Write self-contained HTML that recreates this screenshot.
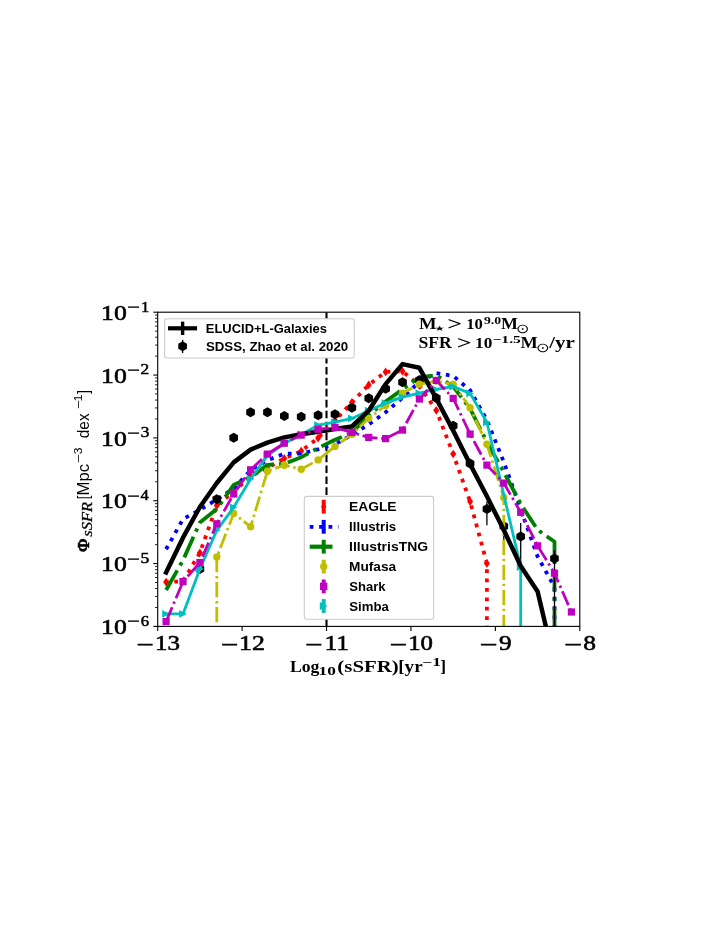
<!DOCTYPE html>
<html><head><meta charset="utf-8"><title>sSFR function</title>
<style>
html,body{margin:0;padding:0;background:#fff;}
svg{display:block;}
text{fill:#000;}
.sb{font-family:"Liberation Sans",sans-serif;font-weight:bold;}
.rb{font-family:"Liberation Serif",serif;font-weight:bold;}
</style></head><body>
<svg width="723" height="935" viewBox="0 0 723 935">
<rect width="723" height="935" fill="#fff"/>
<defs><clipPath id="ax"><rect x="157.7" y="312.2" width="422.1" height="314.2"/></clipPath></defs>
<g clip-path="url(#ax)">
<path d="M326.5,626.4 L326.5,312.2" stroke="#000" stroke-width="2.1" stroke-dasharray="7.66 3.29" fill="none"/>
<path d="M166.1,582.1 L183.0,581.3 L199.9,552.7 L216.8,505.4 L233.7,492.0 L250.6,476.0 L267.4,468.0 L284.3,458.4 L301.2,451.1 L318.1,438.1 L335.0,420.6 L351.9,402.4 L368.7,384.9 L385.6,371.9 L402.5,371.2 L419.4,385.6 L436.3,410.4 L453.2,454.0 L470.1,501.6 L486.9,563.4 L486.9,640.0" stroke="#f00" stroke-width="3.8" fill="none" stroke-dasharray="3.75 5.66" stroke-dashoffset="1.22" stroke-linejoin="round"/>
<path d="M166.1,577.8 L169.1,582.1 L166.1,586.4 L163.1,582.1Z" fill="#f00"/>
<path d="M183.0,577.0 L186.0,581.3 L183.0,585.6 L180.0,581.3Z" fill="#f00"/>
<path d="M199.9,548.4 L202.9,552.7 L199.9,557.0 L196.9,552.7Z" fill="#f00"/>
<path d="M216.8,501.1 L219.8,505.4 L216.8,509.7 L213.8,505.4Z" fill="#f00"/>
<path d="M233.7,487.7 L236.7,492.0 L233.7,496.3 L230.7,492.0Z" fill="#f00"/>
<path d="M250.6,471.7 L253.6,476.0 L250.6,480.3 L247.6,476.0Z" fill="#f00"/>
<path d="M267.4,463.7 L270.4,468.0 L267.4,472.3 L264.4,468.0Z" fill="#f00"/>
<path d="M284.3,454.1 L287.3,458.4 L284.3,462.7 L281.3,458.4Z" fill="#f00"/>
<path d="M301.2,446.8 L304.2,451.1 L301.2,455.4 L298.2,451.1Z" fill="#f00"/>
<path d="M318.1,433.8 L321.1,438.1 L318.1,442.4 L315.1,438.1Z" fill="#f00"/>
<path d="M335.0,416.3 L338.0,420.6 L335.0,424.9 L332.0,420.6Z" fill="#f00"/>
<path d="M351.9,398.1 L354.9,402.4 L351.9,406.7 L348.9,402.4Z" fill="#f00"/>
<path d="M368.7,380.6 L371.7,384.9 L368.7,389.2 L365.7,384.9Z" fill="#f00"/>
<path d="M385.6,367.6 L388.6,371.9 L385.6,376.2 L382.6,371.9Z" fill="#f00"/>
<path d="M402.5,366.9 L405.5,371.2 L402.5,375.5 L399.5,371.2Z" fill="#f00"/>
<path d="M419.4,381.3 L422.4,385.6 L419.4,389.9 L416.4,385.6Z" fill="#f00"/>
<path d="M436.3,406.1 L439.3,410.4 L436.3,414.7 L433.3,410.4Z" fill="#f00"/>
<path d="M453.2,449.7 L456.2,454.0 L453.2,458.3 L450.2,454.0Z" fill="#f00"/>
<path d="M470.1,497.3 L473.1,501.6 L470.1,505.9 L467.1,501.6Z" fill="#f00"/>
<path d="M486.9,559.1 L489.9,563.4 L486.9,567.7 L483.9,563.4Z" fill="#f00"/>
<path d="M166.1,549.3 L183.0,519.0 L199.9,509.8 L216.8,499.4 L233.7,488.5 L250.6,470.2 L267.4,460.2 L284.3,453.8 L301.2,453.6 L318.1,449.3 L335.0,444.2" stroke="#00f" stroke-width="3.8" fill="none" stroke-dasharray="3.75 5.66" stroke-linejoin="round"/>
<path d="M335.0,444.2 L351.9,435.0 L368.7,424.4 L385.6,412.3 L402.5,397.8 L419.4,381.8 L436.3,373.2 L453.2,375.9 L470.1,390.3 L486.9,420.0 L503.8,462.0 L520.7,509.2 L537.6,556.5 L554.5,587.0 L554.5,640.0" stroke="#00f" stroke-width="3.8" fill="none" stroke-dasharray="3.75 5.66" stroke-dashoffset="7.10" stroke-linejoin="round"/>
<path d="M166.1,590.0 L183.0,560.3 L199.9,522.4 L216.8,509.0 L233.7,484.9 L250.6,477.1 L267.4,464.8 L284.3,464.0 L301.2,457.2 L318.1,448.0 L335.0,439.7 L351.9,432.8 L368.7,415.3 L385.6,401.6 L402.5,389.4 L419.4,377.3 L436.3,375.2 L453.2,386.5 L470.1,408.6 L486.9,442.0 L503.8,472.0 L520.7,503.9 L537.6,529.8 L554.5,541.7 L554.5,640.0" stroke="#008000" stroke-width="3.8" fill="none" stroke-dasharray="22.56 5.64 3.52 5.64" stroke-linejoin="round"/>
<path d="M486.9,501.5 L486.9,525.2" stroke="#000" stroke-width="1.3" fill="none"/>
<path d="M503.8,521.5 L503.8,540.4" stroke="#000" stroke-width="1.3" fill="none"/>
<path d="M520.7,523 L520.7,565.6" stroke="#000" stroke-width="1.3" fill="none"/>
<path d="M554.5,550 L554.5,640" stroke="#000" stroke-width="1.3" fill="none"/>
<path d="M199.91,564.00 L195.58,566.50 L195.58,571.50 L199.91,574.00 L204.24,571.50 L204.24,566.50Z" fill="#000"/>
<path d="M216.79,494.20 L212.46,496.70 L212.46,501.70 L216.79,504.20 L221.12,501.70 L221.12,496.70Z" fill="#000"/>
<path d="M233.68,432.70 L229.35,435.20 L229.35,440.20 L233.68,442.70 L238.01,440.20 L238.01,435.20Z" fill="#000"/>
<path d="M250.56,407.30 L246.23,409.80 L246.23,414.80 L250.56,417.30 L254.89,414.80 L254.89,409.80Z" fill="#000"/>
<path d="M267.44,407.30 L263.11,409.80 L263.11,414.80 L267.44,417.30 L271.77,414.80 L271.77,409.80Z" fill="#000"/>
<path d="M284.33,411.10 L280.00,413.60 L280.00,418.60 L284.33,421.10 L288.66,418.60 L288.66,413.60Z" fill="#000"/>
<path d="M301.21,411.80 L296.88,414.30 L296.88,419.30 L301.21,421.80 L305.54,419.30 L305.54,414.30Z" fill="#000"/>
<path d="M318.10,410.30 L313.77,412.80 L313.77,417.80 L318.10,420.30 L322.43,417.80 L322.43,412.80Z" fill="#000"/>
<path d="M334.98,409.30 L330.65,411.80 L330.65,416.80 L334.98,419.30 L339.31,416.80 L339.31,411.80Z" fill="#000"/>
<path d="M351.86,402.70 L347.53,405.20 L347.53,410.20 L351.86,412.70 L356.19,410.20 L356.19,405.20Z" fill="#000"/>
<path d="M368.75,393.30 L364.42,395.80 L364.42,400.80 L368.75,403.30 L373.08,400.80 L373.08,395.80Z" fill="#000"/>
<path d="M385.63,383.70 L381.30,386.20 L381.30,391.20 L385.63,393.70 L389.96,391.20 L389.96,386.20Z" fill="#000"/>
<path d="M402.52,377.30 L398.19,379.80 L398.19,384.80 L402.52,387.30 L406.85,384.80 L406.85,379.80Z" fill="#000"/>
<path d="M419.40,375.30 L415.07,377.80 L415.07,382.80 L419.40,385.30 L423.73,382.80 L423.73,377.80Z" fill="#000"/>
<path d="M436.28,392.90 L431.95,395.40 L431.95,400.40 L436.28,402.90 L440.61,400.40 L440.61,395.40Z" fill="#000"/>
<path d="M453.17,420.80 L448.84,423.30 L448.84,428.30 L453.17,430.80 L457.50,428.30 L457.50,423.30Z" fill="#000"/>
<path d="M470.05,458.60 L465.72,461.10 L465.72,466.10 L470.05,468.60 L474.38,466.10 L474.38,461.10Z" fill="#000"/>
<path d="M486.94,503.90 L482.61,506.40 L482.61,511.40 L486.94,513.90 L491.27,511.40 L491.27,506.40Z" fill="#000"/>
<path d="M503.82,521.30 L499.49,523.80 L499.49,528.80 L503.82,531.30 L508.15,528.80 L508.15,523.80Z" fill="#000"/>
<path d="M520.70,531.40 L516.37,533.90 L516.37,538.90 L520.70,541.40 L525.03,538.90 L525.03,533.90Z" fill="#000"/>
<path d="M554.47,553.50 L550.14,556.00 L550.14,561.00 L554.47,563.50 L558.80,561.00 L558.80,556.00Z" fill="#000"/>
<path d="M216.8,622.4 L216.8,557.0 L233.7,513.4 L250.6,526.8 L267.4,471.2 L284.3,465.2 L301.2,469.3 L318.1,459.9 L335.0,446.5 L351.9,434.3 L368.7,418.4 L385.6,405.4 L402.5,393.1 L419.4,384.1 L436.3,381.0 L453.2,384.2 L470.1,407.8 L486.9,444.3 L503.8,497.5 L503.8,640.0" stroke="#bfbf00" stroke-width="2.8" fill="none" stroke-dasharray="15.2 3.7 2.4 3.7" stroke-dashoffset="24.90" stroke-linejoin="round"/>
<circle cx="216.8" cy="557.0" r="3.7" fill="#bfbf00"/>
<circle cx="233.7" cy="513.4" r="3.7" fill="#bfbf00"/>
<circle cx="250.6" cy="526.8" r="3.7" fill="#bfbf00"/>
<circle cx="267.4" cy="471.2" r="3.7" fill="#bfbf00"/>
<circle cx="284.3" cy="465.2" r="3.7" fill="#bfbf00"/>
<circle cx="301.2" cy="469.3" r="3.7" fill="#bfbf00"/>
<circle cx="318.1" cy="459.9" r="3.7" fill="#bfbf00"/>
<circle cx="335.0" cy="446.5" r="3.7" fill="#bfbf00"/>
<circle cx="351.9" cy="434.3" r="3.7" fill="#bfbf00"/>
<circle cx="368.7" cy="418.4" r="3.7" fill="#bfbf00"/>
<circle cx="385.6" cy="405.4" r="3.7" fill="#bfbf00"/>
<circle cx="402.5" cy="393.1" r="3.7" fill="#bfbf00"/>
<circle cx="419.4" cy="384.1" r="3.7" fill="#bfbf00"/>
<circle cx="436.3" cy="381.0" r="3.7" fill="#bfbf00"/>
<circle cx="453.2" cy="384.2" r="3.7" fill="#bfbf00"/>
<circle cx="470.1" cy="407.8" r="3.7" fill="#bfbf00"/>
<circle cx="486.9" cy="444.3" r="3.7" fill="#bfbf00"/>
<circle cx="503.8" cy="497.5" r="3.7" fill="#bfbf00"/>
<path d="M166.1,613.9 L183.0,613.9 L199.9,569.0 L216.8,530.3 L233.7,507.3 L250.6,479.0 L267.4,455.6 L284.3,443.5 L301.2,434.5 L318.1,425.2 L335.0,422.2 L351.9,418.4 L368.7,410.7 L385.6,403.1 L402.5,397.1 L419.4,393.2 L436.3,389.4 L453.2,386.5 L470.1,393.4 L486.9,422.3 L520.7,567.0 L520.7,640.0" stroke="#00bfbf" stroke-width="2.8" fill="none" stroke-linejoin="round"/>
<path d="M162.2,610.0 L170.0,613.9 L162.2,617.8Z" fill="#00bfbf"/>
<path d="M179.1,610.0 L186.9,613.9 L179.1,617.8Z" fill="#00bfbf"/>
<path d="M196.0,565.1 L203.8,569.0 L196.0,572.9Z" fill="#00bfbf"/>
<path d="M212.9,526.4 L220.7,530.3 L212.9,534.2Z" fill="#00bfbf"/>
<path d="M229.8,503.4 L237.6,507.3 L229.8,511.2Z" fill="#00bfbf"/>
<path d="M246.7,475.1 L254.5,479.0 L246.7,482.9Z" fill="#00bfbf"/>
<path d="M263.5,451.7 L271.3,455.6 L263.5,459.5Z" fill="#00bfbf"/>
<path d="M280.4,439.6 L288.2,443.5 L280.4,447.4Z" fill="#00bfbf"/>
<path d="M297.3,430.6 L305.1,434.5 L297.3,438.4Z" fill="#00bfbf"/>
<path d="M314.2,421.3 L322.0,425.2 L314.2,429.1Z" fill="#00bfbf"/>
<path d="M331.1,418.3 L338.9,422.2 L331.1,426.1Z" fill="#00bfbf"/>
<path d="M348.0,414.5 L355.8,418.4 L348.0,422.3Z" fill="#00bfbf"/>
<path d="M364.8,406.8 L372.6,410.7 L364.8,414.6Z" fill="#00bfbf"/>
<path d="M381.7,399.2 L389.5,403.1 L381.7,407.0Z" fill="#00bfbf"/>
<path d="M398.6,393.2 L406.4,397.1 L398.6,401.0Z" fill="#00bfbf"/>
<path d="M415.5,389.3 L423.3,393.2 L415.5,397.1Z" fill="#00bfbf"/>
<path d="M432.4,385.5 L440.2,389.4 L432.4,393.3Z" fill="#00bfbf"/>
<path d="M449.3,382.6 L457.1,386.5 L449.3,390.4Z" fill="#00bfbf"/>
<path d="M466.2,389.5 L474.0,393.4 L466.2,397.3Z" fill="#00bfbf"/>
<path d="M483.0,418.4 L490.8,422.3 L483.0,426.2Z" fill="#00bfbf"/>
<path d="M516.8,563.1 L524.6,567.0 L516.8,570.9Z" fill="#00bfbf"/>
<path d="M166.1,572.5 L183.0,537.7 L199.9,507.0 L216.8,483.0 L233.7,462.4 L250.6,449.6 L267.4,442.6 L284.3,437.4 L301.2,434.3 L318.1,431.8 L335.0,429.0 L351.9,426.5 L368.7,410.7 L385.6,384.1 L402.5,364.1 L419.4,367.8 L436.3,398.6 L453.2,430.6 L470.1,464.3 L486.9,496.3 L503.8,530.0 L520.7,566.0 L537.6,591.5 L554.5,663.0" stroke="#000" stroke-width="4.5" fill="none" stroke-linejoin="round" stroke-linecap="square"/>
<path d="M166.1,621.6 L183.0,581.6 L199.9,562.6 L216.8,523.8 L233.7,494.0 L250.6,469.8 L267.4,454.1 L284.3,443.2 L301.2,435.1 L318.1,429.3 L335.0,427.5 L351.9,432.4 L368.7,437.4 L385.6,438.6 L402.5,430.1 L419.4,399.0 L436.3,380.4 L453.2,398.4 L470.1,434.1 L486.9,465.1 L503.8,483.1 L520.7,512.3 L537.6,545.8 L554.5,573.2 L571.4,612.0" stroke="#bf00bf" stroke-width="2.8" fill="none" stroke-dasharray="15.2 3.7 2.4 3.7" stroke-dashoffset="24.60" stroke-linejoin="round"/>
<rect x="162.5" y="618.0" width="7.2" height="7.2" fill="#bf00bf"/>
<rect x="179.4" y="578.0" width="7.2" height="7.2" fill="#bf00bf"/>
<rect x="196.3" y="559.0" width="7.2" height="7.2" fill="#bf00bf"/>
<rect x="213.2" y="520.2" width="7.2" height="7.2" fill="#bf00bf"/>
<rect x="230.1" y="490.4" width="7.2" height="7.2" fill="#bf00bf"/>
<rect x="247.0" y="466.2" width="7.2" height="7.2" fill="#bf00bf"/>
<rect x="263.8" y="450.5" width="7.2" height="7.2" fill="#bf00bf"/>
<rect x="280.7" y="439.6" width="7.2" height="7.2" fill="#bf00bf"/>
<rect x="297.6" y="431.5" width="7.2" height="7.2" fill="#bf00bf"/>
<rect x="314.5" y="425.7" width="7.2" height="7.2" fill="#bf00bf"/>
<rect x="331.4" y="423.9" width="7.2" height="7.2" fill="#bf00bf"/>
<rect x="348.3" y="428.8" width="7.2" height="7.2" fill="#bf00bf"/>
<rect x="365.1" y="433.8" width="7.2" height="7.2" fill="#bf00bf"/>
<rect x="382.0" y="435.0" width="7.2" height="7.2" fill="#bf00bf"/>
<rect x="398.9" y="426.5" width="7.2" height="7.2" fill="#bf00bf"/>
<rect x="415.8" y="395.4" width="7.2" height="7.2" fill="#bf00bf"/>
<rect x="432.7" y="376.8" width="7.2" height="7.2" fill="#bf00bf"/>
<rect x="449.6" y="394.8" width="7.2" height="7.2" fill="#bf00bf"/>
<rect x="466.5" y="430.5" width="7.2" height="7.2" fill="#bf00bf"/>
<rect x="483.3" y="461.5" width="7.2" height="7.2" fill="#bf00bf"/>
<rect x="500.2" y="479.5" width="7.2" height="7.2" fill="#bf00bf"/>
<rect x="517.1" y="508.7" width="7.2" height="7.2" fill="#bf00bf"/>
<rect x="534.0" y="542.2" width="7.2" height="7.2" fill="#bf00bf"/>
<rect x="550.9" y="569.6" width="7.2" height="7.2" fill="#bf00bf"/>
<rect x="567.8" y="608.4" width="7.2" height="7.2" fill="#bf00bf"/>
</g>
<rect x="157.7" y="312.2" width="422.1" height="314.2" fill="none" stroke="#000" stroke-width="1.1"/>
<path d="M157.7,312.20 h-4.4" stroke="#000" stroke-width="1.1"/>
<path d="M157.7,356.12 h-2.6" stroke="#000" stroke-width="0.9"/>
<path d="M157.7,345.06 h-2.6" stroke="#000" stroke-width="0.9"/>
<path d="M157.7,337.21 h-2.6" stroke="#000" stroke-width="0.9"/>
<path d="M157.7,331.12 h-2.6" stroke="#000" stroke-width="0.9"/>
<path d="M157.7,326.14 h-2.6" stroke="#000" stroke-width="0.9"/>
<path d="M157.7,321.93 h-2.6" stroke="#000" stroke-width="0.9"/>
<path d="M157.7,318.29 h-2.6" stroke="#000" stroke-width="0.9"/>
<path d="M157.7,315.08 h-2.6" stroke="#000" stroke-width="0.9"/>
<path d="M157.7,375.04 h-4.4" stroke="#000" stroke-width="1.1"/>
<path d="M157.7,418.96 h-2.6" stroke="#000" stroke-width="0.9"/>
<path d="M157.7,407.90 h-2.6" stroke="#000" stroke-width="0.9"/>
<path d="M157.7,400.05 h-2.6" stroke="#000" stroke-width="0.9"/>
<path d="M157.7,393.96 h-2.6" stroke="#000" stroke-width="0.9"/>
<path d="M157.7,388.98 h-2.6" stroke="#000" stroke-width="0.9"/>
<path d="M157.7,384.77 h-2.6" stroke="#000" stroke-width="0.9"/>
<path d="M157.7,381.13 h-2.6" stroke="#000" stroke-width="0.9"/>
<path d="M157.7,377.92 h-2.6" stroke="#000" stroke-width="0.9"/>
<path d="M157.7,437.88 h-4.4" stroke="#000" stroke-width="1.1"/>
<path d="M157.7,481.80 h-2.6" stroke="#000" stroke-width="0.9"/>
<path d="M157.7,470.74 h-2.6" stroke="#000" stroke-width="0.9"/>
<path d="M157.7,462.89 h-2.6" stroke="#000" stroke-width="0.9"/>
<path d="M157.7,456.80 h-2.6" stroke="#000" stroke-width="0.9"/>
<path d="M157.7,451.82 h-2.6" stroke="#000" stroke-width="0.9"/>
<path d="M157.7,447.61 h-2.6" stroke="#000" stroke-width="0.9"/>
<path d="M157.7,443.97 h-2.6" stroke="#000" stroke-width="0.9"/>
<path d="M157.7,440.76 h-2.6" stroke="#000" stroke-width="0.9"/>
<path d="M157.7,500.72 h-4.4" stroke="#000" stroke-width="1.1"/>
<path d="M157.7,544.64 h-2.6" stroke="#000" stroke-width="0.9"/>
<path d="M157.7,533.58 h-2.6" stroke="#000" stroke-width="0.9"/>
<path d="M157.7,525.73 h-2.6" stroke="#000" stroke-width="0.9"/>
<path d="M157.7,519.64 h-2.6" stroke="#000" stroke-width="0.9"/>
<path d="M157.7,514.66 h-2.6" stroke="#000" stroke-width="0.9"/>
<path d="M157.7,510.45 h-2.6" stroke="#000" stroke-width="0.9"/>
<path d="M157.7,506.81 h-2.6" stroke="#000" stroke-width="0.9"/>
<path d="M157.7,503.60 h-2.6" stroke="#000" stroke-width="0.9"/>
<path d="M157.7,563.56 h-4.4" stroke="#000" stroke-width="1.1"/>
<path d="M157.7,607.48 h-2.6" stroke="#000" stroke-width="0.9"/>
<path d="M157.7,596.42 h-2.6" stroke="#000" stroke-width="0.9"/>
<path d="M157.7,588.57 h-2.6" stroke="#000" stroke-width="0.9"/>
<path d="M157.7,582.48 h-2.6" stroke="#000" stroke-width="0.9"/>
<path d="M157.7,577.50 h-2.6" stroke="#000" stroke-width="0.9"/>
<path d="M157.7,573.29 h-2.6" stroke="#000" stroke-width="0.9"/>
<path d="M157.7,569.65 h-2.6" stroke="#000" stroke-width="0.9"/>
<path d="M157.7,566.44 h-2.6" stroke="#000" stroke-width="0.9"/>
<path d="M157.7,626.40 h-4.4" stroke="#000" stroke-width="1.1"/>
<path d="M157.70,626.4 v4.6" stroke="#000" stroke-width="1.1"/>
<path d="M242.12,626.4 v4.6" stroke="#000" stroke-width="1.1"/>
<path d="M326.54,626.4 v4.6" stroke="#000" stroke-width="1.1"/>
<path d="M410.96,626.4 v4.6" stroke="#000" stroke-width="1.1"/>
<path d="M495.38,626.4 v4.6" stroke="#000" stroke-width="1.1"/>
<path d="M579.80,626.4 v4.6" stroke="#000" stroke-width="1.1"/>
<text x="101.14" y="319.9" font-family="Liberation Serif, serif" font-size="22.0" textLength="25.69" lengthAdjust="spacingAndGlyphs" stroke="#000" stroke-width="0.6">10</text>
<text x="127.14" y="312.1" font-family="Liberation Serif, serif" font-size="15.0" textLength="12.55" lengthAdjust="spacingAndGlyphs" stroke="#000" stroke-width="0.5">−</text>
<text x="140.92" y="311.6" font-family="Liberation Serif, serif" font-size="15.0" textLength="8.28" lengthAdjust="spacingAndGlyphs" stroke="#000" stroke-width="0.5">1</text>
<text x="101.14" y="382.7" font-family="Liberation Serif, serif" font-size="22.0" textLength="25.69" lengthAdjust="spacingAndGlyphs" stroke="#000" stroke-width="0.6">10</text>
<text x="127.14" y="374.9" font-family="Liberation Serif, serif" font-size="15.0" textLength="12.55" lengthAdjust="spacingAndGlyphs" stroke="#000" stroke-width="0.5">−</text>
<text x="140.63" y="374.4" font-family="Liberation Serif, serif" font-size="15.0" textLength="8.67" lengthAdjust="spacingAndGlyphs" stroke="#000" stroke-width="0.5">2</text>
<text x="101.14" y="445.6" font-family="Liberation Serif, serif" font-size="22.0" textLength="25.69" lengthAdjust="spacingAndGlyphs" stroke="#000" stroke-width="0.6">10</text>
<text x="127.14" y="437.8" font-family="Liberation Serif, serif" font-size="15.0" textLength="12.55" lengthAdjust="spacingAndGlyphs" stroke="#000" stroke-width="0.5">−</text>
<text x="140.65" y="437.3" font-family="Liberation Serif, serif" font-size="15.0" textLength="8.65" lengthAdjust="spacingAndGlyphs" stroke="#000" stroke-width="0.5">3</text>
<text x="101.14" y="508.4" font-family="Liberation Serif, serif" font-size="22.0" textLength="25.69" lengthAdjust="spacingAndGlyphs" stroke="#000" stroke-width="0.6">10</text>
<text x="127.14" y="500.6" font-family="Liberation Serif, serif" font-size="15.0" textLength="12.55" lengthAdjust="spacingAndGlyphs" stroke="#000" stroke-width="0.5">−</text>
<text x="140.48" y="500.1" font-family="Liberation Serif, serif" font-size="15.0" textLength="8.28" lengthAdjust="spacingAndGlyphs" stroke="#000" stroke-width="0.5">4</text>
<text x="101.14" y="571.3" font-family="Liberation Serif, serif" font-size="22.0" textLength="25.69" lengthAdjust="spacingAndGlyphs" stroke="#000" stroke-width="0.6">10</text>
<text x="127.14" y="563.5" font-family="Liberation Serif, serif" font-size="15.0" textLength="12.55" lengthAdjust="spacingAndGlyphs" stroke="#000" stroke-width="0.5">−</text>
<text x="140.4" y="563.0" font-family="Liberation Serif, serif" font-size="15.0" textLength="8.82" lengthAdjust="spacingAndGlyphs" stroke="#000" stroke-width="0.5">5</text>
<text x="101.14" y="634.1" font-family="Liberation Serif, serif" font-size="22.0" textLength="25.69" lengthAdjust="spacingAndGlyphs" stroke="#000" stroke-width="0.6">10</text>
<text x="127.14" y="626.3" font-family="Liberation Serif, serif" font-size="15.0" textLength="12.55" lengthAdjust="spacingAndGlyphs" stroke="#000" stroke-width="0.5">−</text>
<text x="140.71" y="625.8" font-family="Liberation Serif, serif" font-size="15.0" textLength="8.31" lengthAdjust="spacingAndGlyphs" stroke="#000" stroke-width="0.5">6</text>
<text x="136.51" y="651.5" font-family="Liberation Serif, serif" font-size="22.0" textLength="17.28" lengthAdjust="spacingAndGlyphs" stroke="#000" stroke-width="0.6">−</text>
<text x="155.09" y="650.1" font-family="Liberation Serif, serif" font-size="22.0" textLength="25.02" lengthAdjust="spacingAndGlyphs" stroke="#000" stroke-width="0.6">13</text>
<text x="220.93" y="651.5" font-family="Liberation Serif, serif" font-size="22.0" textLength="17.28" lengthAdjust="spacingAndGlyphs" stroke="#000" stroke-width="0.6">−</text>
<text x="239.14" y="650.1" font-family="Liberation Serif, serif" font-size="22.0" textLength="25.85" lengthAdjust="spacingAndGlyphs" stroke="#000" stroke-width="0.6">12</text>
<text x="305.35" y="651.5" font-family="Liberation Serif, serif" font-size="22.0" textLength="17.28" lengthAdjust="spacingAndGlyphs" stroke="#000" stroke-width="0.6">−</text>
<text x="324.5" y="650.1" font-family="Liberation Serif, serif" font-size="22.0" textLength="24.42" lengthAdjust="spacingAndGlyphs" stroke="#000" stroke-width="0.6">11</text>
<text x="389.77" y="651.5" font-family="Liberation Serif, serif" font-size="22.0" textLength="17.28" lengthAdjust="spacingAndGlyphs" stroke="#000" stroke-width="0.6">−</text>
<text x="408.16" y="650.1" font-family="Liberation Serif, serif" font-size="22.0" textLength="24.8" lengthAdjust="spacingAndGlyphs" stroke="#000" stroke-width="0.6">10</text>
<text x="479.87" y="651.5" font-family="Liberation Serif, serif" font-size="22.0" textLength="17.73" lengthAdjust="spacingAndGlyphs" stroke="#000" stroke-width="0.6">−</text>
<text x="499.13" y="650.1" font-family="Liberation Serif, serif" font-size="22.0" textLength="12.56" lengthAdjust="spacingAndGlyphs" stroke="#000" stroke-width="0.6">9</text>
<text x="564.29" y="651.5" font-family="Liberation Serif, serif" font-size="22.0" textLength="17.73" lengthAdjust="spacingAndGlyphs" stroke="#000" stroke-width="0.6">−</text>
<text x="583.34" y="650.1" font-family="Liberation Serif, serif" font-size="22.0" textLength="12.73" lengthAdjust="spacingAndGlyphs" stroke="#000" stroke-width="0.6">8</text>
<text x="289.94" y="671.5" font-family="Liberation Serif, serif" font-weight="bold" font-size="16.3" textLength="29.53" lengthAdjust="spacingAndGlyphs">Log</text>
<text x="318.51" y="674.7" font-family="Liberation Serif, serif" font-weight="bold" font-size="11.6" textLength="17.27" lengthAdjust="spacingAndGlyphs">10</text>
<text x="337.35" y="671.5" font-family="Liberation Serif, serif" font-weight="bold" font-size="16.3" textLength="61.33" lengthAdjust="spacingAndGlyphs">(sSFR)</text>
<text x="398.27" y="671.5" font-family="Liberation Serif, serif" font-weight="bold" font-size="16.3" textLength="24.33" lengthAdjust="spacingAndGlyphs">[yr</text>
<text x="422.24" y="665.6" font-family="Liberation Serif, serif" font-weight="bold" font-size="11.6" textLength="18.81" lengthAdjust="spacingAndGlyphs">−1</text>
<text x="440.37" y="671.5" font-family="Liberation Serif, serif" font-weight="bold" font-size="16.3" textLength="5.83" lengthAdjust="spacingAndGlyphs">]</text>
<text x="418.9" y="329.1" font-family="Liberation Serif, serif" font-weight="bold" font-size="15.8" textLength="17.6" lengthAdjust="spacingAndGlyphs">M</text>
<text x="433.83" y="331.6" font-family="Liberation Serif, serif" font-weight="bold" font-size="11" textLength="11.43" lengthAdjust="spacingAndGlyphs">⋆</text>
<text x="447.24" y="330.3" font-family="Liberation Serif, serif" font-weight="bold" font-size="19" textLength="14.89" lengthAdjust="spacingAndGlyphs">&gt;</text>
<text x="466.25" y="329.1" font-family="Liberation Serif, serif" font-weight="bold" font-size="15.4" textLength="16.6" lengthAdjust="spacingAndGlyphs">10</text>
<text x="483.91" y="324.4" font-family="Liberation Serif, serif" font-weight="bold" font-size="10.9" textLength="17.06" lengthAdjust="spacingAndGlyphs">9.0</text>
<text x="500.93" y="329.1" font-family="Liberation Serif, serif" font-weight="bold" font-size="15.8" textLength="16.94" lengthAdjust="spacingAndGlyphs">M</text>
<text x="516.06" y="333.0" font-family="Liberation Serif, serif" font-size="13" textLength="13.51" lengthAdjust="spacingAndGlyphs">⊙</text>
<text x="418.48" y="347.9" font-family="Liberation Serif, serif" font-weight="bold" font-size="15.8" textLength="33.3" lengthAdjust="spacingAndGlyphs">SFR</text>
<text x="456.74" y="349.1" font-family="Liberation Serif, serif" font-weight="bold" font-size="19" textLength="14.89" lengthAdjust="spacingAndGlyphs">&gt;</text>
<text x="475.08" y="347.9" font-family="Liberation Serif, serif" font-weight="bold" font-size="15.4" textLength="17.29" lengthAdjust="spacingAndGlyphs">10</text>
<text x="492.5" y="343.1" font-family="Liberation Serif, serif" font-weight="bold" font-size="10.9" textLength="28.34" lengthAdjust="spacingAndGlyphs">−1.5</text>
<text x="520.51" y="347.9" font-family="Liberation Serif, serif" font-weight="bold" font-size="15.8" textLength="17.27" lengthAdjust="spacingAndGlyphs">M</text>
<text x="536.13" y="351.8" font-family="Liberation Serif, serif" font-size="13" textLength="13.78" lengthAdjust="spacingAndGlyphs">⊙</text>
<text x="549.3" y="347.9" font-family="Liberation Serif, serif" font-weight="bold" font-size="15.8" textLength="25.57" lengthAdjust="spacingAndGlyphs">/yr</text>
<g transform="translate(89.2,551.8) rotate(-90)">
<text x="-0.39" y="0.0" font-family="Liberation Serif, serif" font-weight="bold" font-size="17.7" textLength="13.89" lengthAdjust="spacingAndGlyphs" stroke="#000" stroke-width="0.45">Φ</text>
<text x="15.14" y="2.9" font-family="Liberation Serif, serif" font-style="italic" font-size="14.2" textLength="34.66" lengthAdjust="spacingAndGlyphs" stroke="#000" stroke-width="0.3">sSFR</text>
<text x="52.44" y="0.0" font-family="Liberation Sans, sans-serif" font-size="16.2" textLength="3.66" lengthAdjust="spacingAndGlyphs">[</text>
<text x="56.31" y="0.0" font-family="Liberation Sans, sans-serif" font-size="16.2" textLength="31.58" lengthAdjust="spacingAndGlyphs">Mpc</text>
<text x="88.81" y="-6.9" font-family="Liberation Sans, sans-serif" font-size="11.3" textLength="8.92" lengthAdjust="spacingAndGlyphs">−</text>
<text x="97.5" y="-6.9" font-family="Liberation Sans, sans-serif" font-size="11.3" textLength="6.73" lengthAdjust="spacingAndGlyphs">3</text>
<text x="113.62" y="0.0" font-family="Liberation Sans, sans-serif" font-size="16.2" textLength="24.78" lengthAdjust="spacingAndGlyphs">dex</text>
<text x="142.91" y="-6.9" font-family="Liberation Sans, sans-serif" font-size="11.3" textLength="8.92" lengthAdjust="spacingAndGlyphs">−</text>
<text x="150.38" y="-6.9" font-family="Liberation Sans, sans-serif" font-size="11.3" textLength="7.07" lengthAdjust="spacingAndGlyphs">1</text>
<text x="158.18" y="0.0" font-family="Liberation Sans, sans-serif" font-size="16.2" textLength="3.66" lengthAdjust="spacingAndGlyphs">]</text>
</g>
<rect x="164.6" y="318.7" width="189.6" height="39.3" rx="2.5" fill="#fff" fill-opacity="1" stroke="#ccc" stroke-width="1.1"/>
<path d="M168,328.3 H197.1" stroke="#000" stroke-width="4.2"/>
<path d="M182.6,321.6 V335" stroke="#000" stroke-width="3.4"/>
<text x="205.84" y="333.3" font-family="Liberation Sans, sans-serif" font-weight="bold" font-size="12" textLength="121.15" lengthAdjust="spacingAndGlyphs">ELUCID+L-Galaxies</text>
<path d="M182.6,339.8 V353" stroke="#000" stroke-width="1.3"/>
<path d="M182.60,341.30 L178.27,343.80 L178.27,348.80 L182.60,351.30 L186.93,348.80 L186.93,343.80Z" fill="#000"/>
<text x="205.92" y="351.0" font-family="Liberation Sans, sans-serif" font-weight="bold" font-size="12" textLength="142.3" lengthAdjust="spacingAndGlyphs">SDSS, Zhao et al. 2020</text>
<rect x="304.3" y="496.4" width="129.3" height="122.8" rx="2.5" fill="#fff" fill-opacity="1" stroke="#ccc" stroke-width="1.1"/>
<text x="349.09" y="511.3" font-family="Liberation Sans, sans-serif" font-weight="bold" font-size="12" textLength="47.48" lengthAdjust="spacingAndGlyphs">EAGLE</text>
<path d="M323.7,499.8 V513.6" stroke="#f00" stroke-width="4.0"/>
<path d="M323.7,502.5 L326.3,506.7 L323.7,510.9 L321.09999999999997,506.7Z" fill="#f00"/>
<text x="349.12" y="531.4" font-family="Liberation Sans, sans-serif" font-weight="bold" font-size="12" textLength="47.14" lengthAdjust="spacingAndGlyphs">Illustris</text>
<path d="M309.7,526.8 H338.4" stroke="#00f" stroke-width="3.8" stroke-dasharray="3.75 5.66"/>
<path d="M323.7,519.9 V533.6999999999999" stroke="#00f" stroke-width="4.0"/>
<text x="349.07" y="551.3" font-family="Liberation Sans, sans-serif" font-weight="bold" font-size="12" textLength="79.01" lengthAdjust="spacingAndGlyphs">IllustrisTNG</text>
<path d="M309.7,546.6999999999999 H337.6" stroke="#008000" stroke-width="4.2" stroke-dasharray="22.8 5.55 3.5 5.55"/>
<path d="M323.7,539.8 V553.5999999999999" stroke="#008000" stroke-width="4.0"/>
<text x="349.09" y="571.2" font-family="Liberation Sans, sans-serif" font-weight="bold" font-size="12" textLength="47.08" lengthAdjust="spacingAndGlyphs">Mufasa</text>
<path d="M323.7,559.7 V573.5" stroke="#bfbf00" stroke-width="4.0"/>
<circle cx="323.7" cy="566.6" r="3.7" fill="#bfbf00"/>
<text x="349.23" y="591.0" font-family="Liberation Sans, sans-serif" font-weight="bold" font-size="12" textLength="36.39" lengthAdjust="spacingAndGlyphs">Shark</text>
<path d="M323.7,579.5 V593.3" stroke="#bf00bf" stroke-width="4.0"/>
<rect x="320.0" y="582.6999999999999" width="7.4" height="7.4" fill="#bf00bf"/>
<text x="349.22" y="610.6" font-family="Liberation Sans, sans-serif" font-weight="bold" font-size="12" textLength="39.55" lengthAdjust="spacingAndGlyphs">Simba</text>
<path d="M323.7,599.1 V612.9" stroke="#00bfbf" stroke-width="4.0"/>
<path d="M319.8,602.1 L327.59999999999997,606.0 L319.8,609.9Z" fill="#00bfbf"/>
</svg>
</body></html>
